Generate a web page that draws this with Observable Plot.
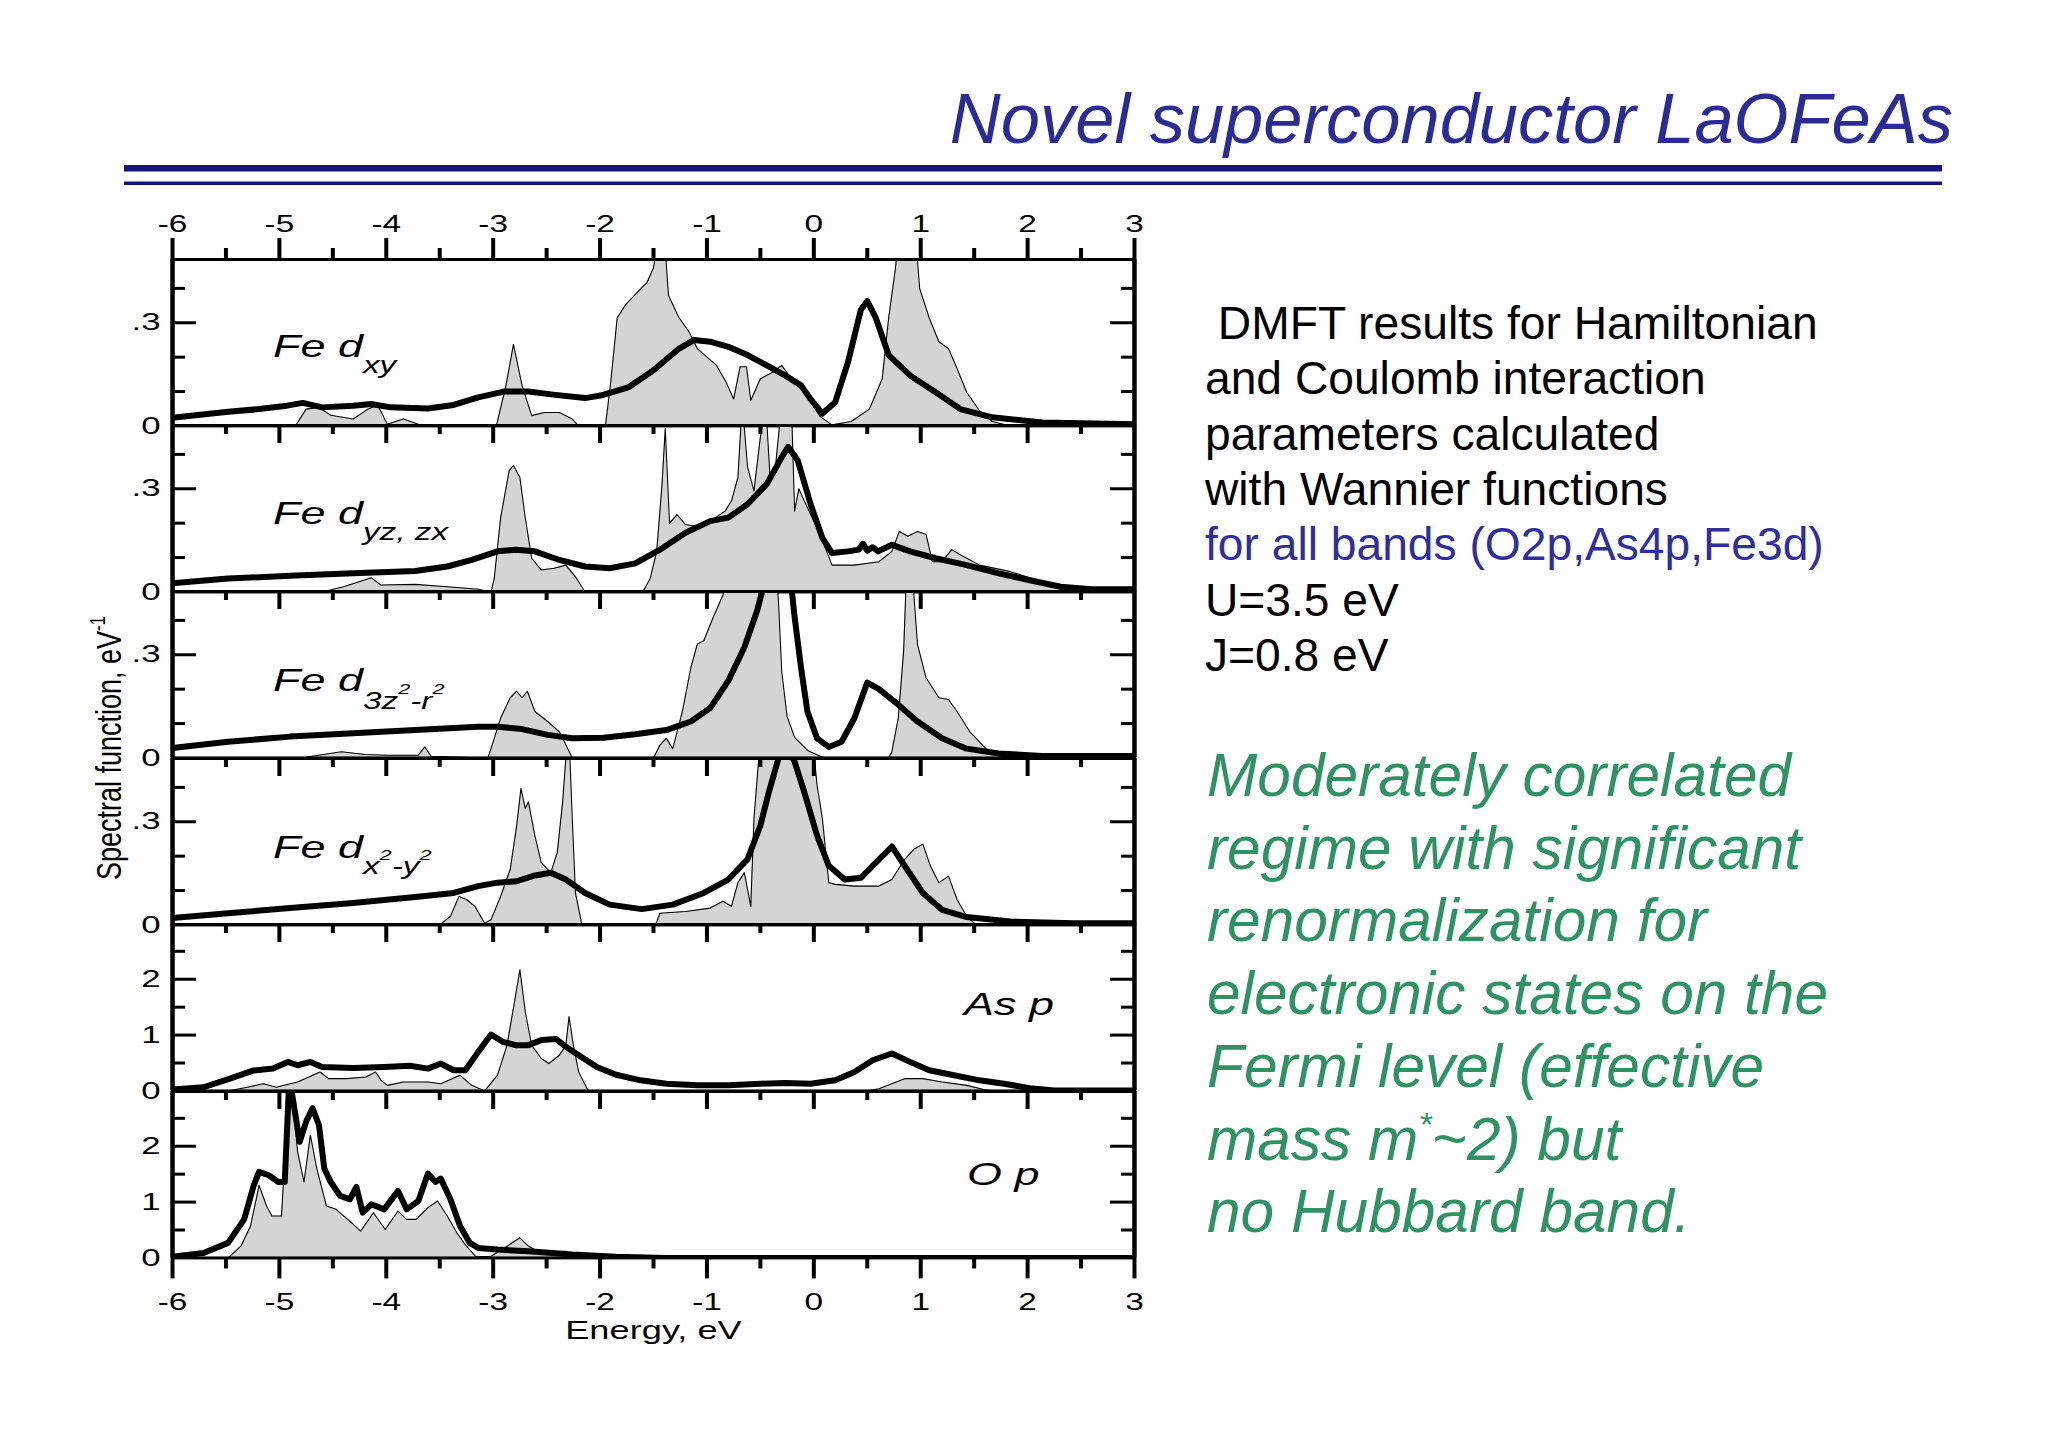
<!DOCTYPE html>
<html><head><meta charset="utf-8">
<script src="https://cdn.jsdelivr.net/npm/d3@7"></script>
<script src="https://cdn.jsdelivr.net/npm/@observablehq/plot@0.6"></script>
<style>
html,body{margin:0;padding:0;background:#fff;}
#page{position:relative;width:2048px;height:1447px;overflow:hidden;background:#fff;font-family:"Liberation Sans",Arial,Helvetica,sans-serif;}
#page svg{position:absolute;}
</style></head><body><div id="page"></div>
<script>
// ---------------- data (energy eV, spectral function eV^-1) ----------------
const dxyLDA = [[-6,0],[-4.85,0],[-4.75,0.049],[-4.63,0.054],[-4.52,0.031],[-4.31,0.02],[-4.17,0.049],[-4.08,0.06],[-3.99,0.005],[-3.84,0.02],[-3.7,0.005],[-3.6,0],[-2.97,0],[-2.88,0.118],[-2.81,0.237],[-2.73,0.118],[-2.64,0.03],[-2.52,0.039],[-2.38,0.039],[-2.26,0.02],[-2.2,0],[-1.95,0],[-1.9,0.127],[-1.84,0.314],[-1.76,0.353],[-1.61,0.402],[-1.56,0.417],[-1.5,0.46],[-1.45,0.56],[-1.4,0.56],[-1.36,0.38],[-1.32,0.353],[-1.26,0.314],[-1.17,0.275],[-1.09,0.225],[-0.91,0.176],[-0.82,0.127],[-0.75,0.078],[-0.69,0.172],[-0.63,0.172],[-0.59,0.074],[-0.5,0.137],[-0.38,0.157],[-0.3,0.176],[-0.21,0.137],[-0.09,0.098],[0.06,0.027],[0.17,0.003],[0.35,0.013],[0.52,0.049],[0.64,0.137],[0.7,0.314],[0.76,0.45],[0.8,0.56],[0.95,0.56],[0.99,0.4],[1.08,0.314],[1.17,0.245],[1.26,0.225],[1.34,0.167],[1.43,0.098],[1.55,0.044],[1.67,0.013],[1.84,0],[3,0]];
const dxyDMFT = [[-6,0.024],[-5.48,0.041],[-5.19,0.049],[-4.93,0.059],[-4.78,0.067],[-4.6,0.054],[-4.31,0.059],[-4.14,0.064],[-3.96,0.054],[-3.61,0.051],[-3.37,0.061],[-3.14,0.083],[-2.9,0.1],[-2.67,0.1],[-2.44,0.091],[-2.14,0.081],[-1.97,0.09],[-1.73,0.113],[-1.5,0.162],[-1.26,0.225],[-1.12,0.25],[-0.97,0.245],[-0.8,0.23],[-0.62,0.206],[-0.44,0.176],[-0.27,0.147],[-0.12,0.118],[-0.03,0.078],[0.08,0.036],[0.2,0.069],[0.32,0.186],[0.44,0.338],[0.5,0.363],[0.58,0.314],[0.7,0.206],[0.9,0.147],[1.14,0.098],[1.37,0.049],[1.67,0.025],[2.14,0.01],[3,0.005]];

const dyzLDA = [[-6,0],[-4.6,0],[-4.4,0.015],[-4.14,0.041],[-4.05,0.02],[-3.73,0.022],[-3.43,0.015],[-3.14,0.008],[-3.02,0],[-2.99,0.039],[-2.93,0.216],[-2.85,0.353],[-2.81,0.368],[-2.75,0.333],[-2.7,0.216],[-2.64,0.098],[-2.55,0.064],[-2.43,0.069],[-2.32,0.078],[-2.23,0.044],[-2.14,0],[-1.6,0],[-1.53,0.04],[-1.47,0.118],[-1.42,0.314],[-1.39,0.475],[-1.35,0.2],[-1.28,0.225],[-1.2,0.196],[-1.09,0.19],[-0.97,0.206],[-0.83,0.235],[-0.77,0.265],[-0.71,0.333],[-0.67,0.55],[-0.62,0.363],[-0.56,0.294],[-0.5,0.45],[-0.45,0.55],[-0.41,0.333],[-0.36,0.36],[-0.3,0.55],[-0.21,0.55],[-0.18,0.235],[-0.14,0.3],[-0.09,0.265],[0.03,0.186],[0.12,0.118],[0.17,0.078],[0.38,0.078],[0.61,0.088],[0.73,0.118],[0.8,0.176],[0.88,0.162],[0.97,0.176],[1.05,0.167],[1.11,0.088],[1.2,0.088],[1.29,0.123],[1.37,0.108],[1.55,0.078],[1.84,0.059],[2.14,0.029],[2.37,0.01],[2.49,0],[3,0]];
const dyzDMFT = [[-6,0.025],[-5.48,0.039],[-4.9,0.047],[-4.31,0.054],[-3.73,0.061],[-3.43,0.074],[-3.2,0.093],[-2.96,0.118],[-2.79,0.123],[-2.61,0.118],[-2.38,0.093],[-2.14,0.074],[-1.91,0.069],[-1.67,0.083],[-1.44,0.123],[-1.2,0.172],[-0.97,0.206],[-0.8,0.216],[-0.62,0.255],[-0.44,0.314],[-0.3,0.392],[-0.24,0.422],[-0.15,0.382],[-0.03,0.255],[0.08,0.157],[0.17,0.113],[0.32,0.118],[0.42,0.123],[0.46,0.14],[0.5,0.12],[0.55,0.13],[0.6,0.118],[0.73,0.137],[0.9,0.118],[1.14,0.098],[1.43,0.078],[1.73,0.054],[2.02,0.034],[2.31,0.015],[2.6,0.008],[3,0.008]];

const dz2LDA = [[-6,0],[-4.8,0],[-4.42,0.018],[-4.2,0.01],[-3.99,0.008],[-3.7,0.008],[-3.64,0.032],[-3.58,0.005],[-3.05,0],[-3.02,0.027],[-2.93,0.116],[-2.84,0.175],[-2.78,0.194],[-2.73,0.175],[-2.68,0.194],[-2.61,0.135],[-2.49,0.106],[-2.38,0.076],[-2.26,0],[-1.5,0],[-1.44,0.037],[-1.38,0.057],[-1.32,0.027],[-1.23,0.135],[-1.15,0.263],[-1.09,0.331],[-1.03,0.341],[-0.94,0.41],[-0.85,0.474],[-0.8,0.55],[-0.36,0.6],[-0.33,0.45],[-0.3,0.25],[-0.25,0.12],[-0.18,0.06],[-0.05,0.02],[0.1,0],[0.7,0],[0.73,0.018],[0.79,0.116],[0.84,0.31],[0.86,0.478],[0.9,0.6],[0.93,0.5],[0.97,0.33],[1.05,0.233],[1.17,0.175],[1.26,0.17],[1.34,0.135],[1.46,0.076],[1.61,0.027],[1.73,0.008],[1.84,0],[3,0]];
const dz2DMFT = [[-6,0.029],[-5.48,0.047],[-4.9,0.062],[-4.31,0.072],[-3.73,0.081],[-3.14,0.091],[-2.96,0.091],[-2.73,0.084],[-2.49,0.067],[-2.26,0.057],[-1.97,0.059],[-1.67,0.069],[-1.38,0.081],[-1.15,0.106],[-0.97,0.145],[-0.8,0.224],[-0.65,0.322],[-0.53,0.429],[-0.47,0.5],[-0.35,0.65],[-0.21,0.5],[-0.18,0.41],[-0.12,0.263],[-0.06,0.135],[0.03,0.057],[0.14,0.032],[0.26,0.047],[0.38,0.116],[0.5,0.219],[0.61,0.2],[0.79,0.155],[0.97,0.106],[1.2,0.057],[1.43,0.027],[1.73,0.013],[2.14,0.006],[3,0.006]];

const dx2LDA = [[-6,0],[-3.5,0],[-3.4,0.025],[-3.32,0.083],[-3.25,0.074],[-3.17,0.054],[-3.08,0.005],[-3.02,0.015],[-2.93,0.083],[-2.84,0.162],[-2.78,0.289],[-2.74,0.397],[-2.7,0.338],[-2.67,0.358],[-2.61,0.26],[-2.55,0.181],[-2.46,0.152],[-2.4,0.211],[-2.35,0.358],[-2.32,0.485],[-2.29,0.55],[-2.26,0.309],[-2.23,0.093],[-2.17,0],[-1.48,0],[-1.44,0.034],[-1.2,0.039],[-0.97,0.049],[-0.85,0.069],[-0.77,0.054],[-0.71,0.123],[-0.65,0.152],[-0.59,0.054],[-0.56,0.309],[-0.52,0.466],[-0.48,0.6],[-0.03,0.6],[0.03,0.407],[0.08,0.309],[0.14,0.123],[0.2,0.118],[0.38,0.113],[0.61,0.113],[0.73,0.132],[0.85,0.191],[0.94,0.221],[1.02,0.235],[1.09,0.172],[1.17,0.123],[1.26,0.142],[1.34,0.074],[1.43,0.025],[1.52,0],[3,0]];
const dx2DMFT = [[-6,0.02],[-5.48,0.034],[-4.9,0.049],[-4.31,0.064],[-3.73,0.081],[-3.37,0.093],[-3.14,0.113],[-2.96,0.123],[-2.78,0.127],[-2.61,0.144],[-2.46,0.152],[-2.32,0.132],[-2.14,0.093],[-1.91,0.059],[-1.61,0.046],[-1.32,0.059],[-1.03,0.093],[-0.8,0.132],[-0.62,0.191],[-0.5,0.289],[-0.42,0.387],[-0.33,0.485],[-0.27,0.53],[-0.18,0.475],[-0.09,0.387],[0.03,0.26],[0.14,0.172],[0.29,0.132],[0.44,0.137],[0.58,0.181],[0.73,0.228],[0.85,0.172],[1.02,0.093],[1.2,0.044],[1.43,0.023],[1.84,0.01],[2.43,0.005],[3,0.005]];

const asLDA = [[-6,0],[-5.48,0],[-5.3,0.066],[-5.15,0.13],[-5.03,0.066],[-4.83,0.16],[-4.62,0.34],[-4.54,0.22],[-4.37,0.22],[-4.19,0.25],[-4.1,0.34],[-4.05,0.19],[-3.99,0.1],[-3.84,0.16],[-3.61,0.16],[-3.49,0.13],[-3.31,0.28],[-3.2,0.1],[-3.08,0],[-2.96,0.28],[-2.87,0.82],[-2.8,1.6],[-2.75,2.17],[-2.7,1.42],[-2.64,0.82],[-2.55,0.58],[-2.48,0.49],[-2.38,0.64],[-2.32,0.82],[-2.29,1.33],[-2.25,0.82],[-2.2,0.34],[-2.11,0],[0.5,0],[0.61,0.04],[0.85,0.22],[1.02,0.22],[1.2,0.16],[1.43,0.1],[1.6,0.02],[1.72,0],[3,0]];
const asDMFT = [[-6,0.024],[-5.71,0.066],[-5.47,0.217],[-5.24,0.367],[-5.06,0.4],[-4.92,0.52],[-4.83,0.46],[-4.71,0.52],[-4.6,0.43],[-4.31,0.41],[-4.02,0.43],[-3.78,0.45],[-3.61,0.4],[-3.49,0.49],[-3.37,0.37],[-3.26,0.37],[-3.14,0.7],[-3.02,1.01],[-2.91,0.88],[-2.79,0.82],[-2.67,0.82],[-2.55,0.91],[-2.41,0.93],[-2.32,0.79],[-2.2,0.64],[-2.03,0.43],[-1.85,0.29],[-1.62,0.19],[-1.38,0.13],[-1.09,0.1],[-0.8,0.1],[-0.5,0.13],[-0.27,0.14],[-0.03,0.13],[0.2,0.19],[0.38,0.34],[0.55,0.55],[0.73,0.67],[0.9,0.52],[1.08,0.37],[1.31,0.28],[1.55,0.19],[1.78,0.13],[2.02,0.05],[2.25,0.01],[3,0.01]];

const opLDA = [[-6,0],[-5.48,0],[-5.36,0.21],[-5.27,0.57],[-5.19,1.3],[-5.12,0.93],[-5.07,0.75],[-4.98,0.75],[-4.92,2.8],[-4.89,3.1],[-4.83,1.9],[-4.77,1.36],[-4.71,2.2],[-4.65,1.6],[-4.56,0.93],[-4.47,0.87],[-4.36,0.69],[-4.24,0.48],[-4.12,0.81],[-4.01,0.51],[-3.89,0.84],[-3.81,0.69],[-3.72,0.69],[-3.61,0.9],[-3.52,1.02],[-3.43,0.75],[-3.34,0.45],[-3.25,0.21],[-3.16,0.02],[-3.02,0.03],[-2.87,0.21],[-2.75,0.36],[-2.67,0.21],[-2.55,0.09],[-2.32,0.12],[-2.26,0.02],[-2.2,0],[3,0]];
const opDMFT = [[-6,0.02],[-5.71,0.09],[-5.48,0.27],[-5.33,0.69],[-5.24,1.3],[-5.19,1.54],[-5.1,1.48],[-5.01,1.36],[-4.95,1.36],[-4.91,3.1],[-4.88,2.92],[-4.81,2.08],[-4.75,2.44],[-4.69,2.68],[-4.63,2.38],[-4.58,1.6],[-4.52,1.36],[-4.43,1.11],[-4.34,1.05],[-4.28,1.27],[-4.22,0.81],[-4.14,0.96],[-4.02,0.87],[-3.89,1.2],[-3.81,0.87],[-3.7,1.02],[-3.61,1.51],[-3.54,1.36],[-3.49,1.42],[-3.4,1.05],[-3.31,0.57],[-3.22,0.27],[-3.14,0.18],[-2.96,0.15],[-2.67,0.12],[-2.26,0.06],[-1.85,0.02],[-1.38,0],[3,0]];

// ---------------- ticks and labels ----------------
const energyTicks = [-6,-5,-4,-3,-2,-1,0,1,2,3];
const energyTickLabels = ["-6","-5","-4","-3","-2","-1","0","1","2","3"];
const energyMinor = [-5.5,-4.5,-3.5,-2.5,-1.5,-0.5,0.5,1.5,2.5];
const energyInnerMajor = [-5,-4,-3,-2,-1,0,1,2];
const feYDomain = [0, 0.484];
const feYMajor = [0.3];
const feYMinor = [0.1, 0.2, 0.4];
const feYTicks = [0, 0.3];
const feYTickLabels = ["0", ".3"];
const pYDomain = [0, 2.98];
const pYMajor = [1, 2];
const pYMinor = [0.5, 1.5, 2.5];
const pYTicks = [0, 1, 2];
const pYTickLabels = ["0", "1", "2"];

const titleText = "Novel superconductor LaOFeAs";
const xAxisLabel = "Energy, eV";
const yAxisLabel = "Spectral function, eV";
const infoLines = [" DMFT results for Hamiltonian", "and Coulomb interaction", "parameters calculated", "with Wannier functions", "for all bands (O2p,As4p,Fe3d)", "U=3.5 eV", "J=0.8 eV"];
const infoColors = ["#000","#000","#000","#000","#2e2e9c","#000","#000"];
const greenLines = ["Moderately correlated", "regime with significant", "renormalization for", "electronic states on the", "Fermi level (effective", "mass m|*|~2) but", "no Hubbard band."];

// ---------------- layout ----------------
const FRAME_L = 172, FRAME_R = 1134, FRAME_TOP = 258.5, PH = 166.45;
const SVG_W = 1200, M_T = 100, M_B = 100;
const PW = FRAME_R - FRAME_L;
const STRETCH = 1.45;
const FONT = "'Liberation Sans', Arial, Helvetica, sans-serif";

const panels = [
  {lda: dxyLDA, dmft: dxyDMFT, fe: true},
  {lda: dyzLDA, dmft: dyzDMFT, fe: true},
  {lda: dz2LDA, dmft: dz2DMFT, fe: true},
  {lda: dx2LDA, dmft: dx2DMFT, fe: true},
  {lda: asLDA, dmft: asDMFT, fe: false},
  {lda: opLDA, dmft: opDMFT, fe: false}
];

const page = document.getElementById("page");

// the scanned figure is stretched horizontally: widen its glyphs about their anchor
function stretchTexts(svg, s) {
  d3.select(svg).selectAll("text").each(function () {
    const t = d3.select(this);
    const tr = t.attr("transform") || "";
    const rotated = /rotate\(\s*-?9/.test(tr);
    if (rotated) {
      t.attr("transform", `${tr} scale(1,${s})`);
    } else {
      const x = parseFloat(t.attr("x")) || 0;
      t.attr("transform", `${tr} translate(${x},0) scale(${s},1) translate(${-x},0)`);
    }
  });
}

panels.forEach((p, i) => {
  const domain = p.fe ? feYDomain : pYDomain;
  const major = p.fe ? feYMajor : pYMajor;
  const minor = p.fe ? feYMinor : pYMinor;
  const tv = p.fe ? feYTicks : pYTicks;
  const tl = p.fe ? feYTickLabels : pYTickLabels;
  const X = d => d[0], Y = d => d[1];
  const marks = [
    Plot.areaY(p.lda, {x: X, y: Y, fill: "#d4d4d4", clip: true}),
    Plot.lineY(p.lda, {x: X, y: Y, stroke: "#000", strokeWidth: 1.1, clip: true}),
    Plot.lineY(p.dmft, {x: X, y: Y, stroke: "#000", strokeWidth: 6, clip: true, strokeLinejoin: "round", strokeLinecap: "round"}),
    Plot.frame({stroke: "#000", strokeWidth: 3}),
    Plot.ruleX([-6, 3], {stroke: "#000", strokeWidth: 4.5}),
    Plot.tickY(major, {y: d => d, insetRight: PW - 24, strokeWidth: 3}),
    Plot.tickY(minor, {y: d => d, insetRight: PW - 13, strokeWidth: 3}),
    Plot.tickY(major, {y: d => d, insetLeft: PW - 24, strokeWidth: 3}),
    Plot.tickY(minor, {y: d => d, insetLeft: PW - 13, strokeWidth: 3}),
    Plot.axisY(tv, {anchor: "left", tickSize: 0, tickPadding: 12, fontSize: 24,
      tickFormat: d => tl[tv.indexOf(d)], label: null})
  ];
  if (i === 0) {
    marks.push(
      Plot.tickX(energyTicks, {x: d => d, insetTop: -21, insetBottom: PH, strokeWidth: 4}),
      Plot.tickX(energyMinor, {x: d => d, insetTop: -11, insetBottom: PH, strokeWidth: 4}),
      Plot.axisX(energyTicks, {anchor: "top", tickSize: 0, tickPadding: 27, fontSize: 23,
        tickFormat: d => energyTickLabels[energyTicks.indexOf(d)], label: null})
    );
  } else {
    marks.push(
      Plot.tickX(energyInnerMajor, {x: d => d, insetBottom: PH - 18, strokeWidth: 4}),
      Plot.tickX(energyMinor, {x: d => d, insetBottom: PH - 9, strokeWidth: 4})
    );
  }
  if (i === panels.length - 1) {
    marks.push(
      Plot.tickX(energyTicks, {x: d => d, insetTop: PH, insetBottom: -21, strokeWidth: 4}),
      Plot.tickX(energyMinor, {x: d => d, insetTop: PH, insetBottom: -11, strokeWidth: 4}),
      Plot.axisX(energyTicks, {anchor: "bottom", tickSize: 0, tickPadding: 36, fontSize: 23,
        tickFormat: d => energyTickLabels[energyTicks.indexOf(d)], label: null}),
      Plot.text([xAxisLabel], {frameAnchor: "bottom", dy: 81, fontSize: 25})
    );
  }
  const svg = Plot.plot({
    width: SVG_W, height: PH + M_T + M_B,
    marginLeft: FRAME_L, marginRight: SVG_W - FRAME_R, marginTop: M_T, marginBottom: M_B,
    x: {domain: [-6, 3], axis: null},
    y: {domain, axis: null},
    style: {background: "transparent", overflow: "visible", fontFamily: FONT, color: "#000"},
    marks
  });
  stretchTexts(svg, STRETCH);
  svg.style.left = "0px";
  svg.style.top = (FRAME_TOP + i * PH - M_T) + "px";
  svg.style.maxWidth = "none";
  page.appendChild(svg);
});

// ---------------- overlay: slide text, lines, panel labels ----------------
const ov = d3.select(page).append("svg").attr("width", 2048).attr("height", 1447)
  .style("left", "0px").style("top", "0px").style("font-family", FONT);

ov.append("text").attr("x", 1953).attr("y", 143).attr("text-anchor", "end")
  .attr("font-style", "italic").attr("font-size", 70.5).attr("fill", "#2b2b96").text(titleText);
ov.append("rect").attr("x", 124).attr("y", 165).attr("width", 1818).attr("height", 6.5).attr("fill", "#14147e");
ov.append("rect").attr("x", 124).attr("y", 181.5).attr("width", 1818).attr("height", 3.5).attr("fill", "#14147e");

infoLines.forEach((t, i) => {
  ov.append("text").attr("x", 1205).attr("y", 339 + 55.3 * i).attr("font-size", 46.2)
    .attr("fill", infoColors[i]).style("white-space", "pre").text(t);
});

greenLines.forEach((t, i) => {
  const el = ov.append("text").attr("x", 1207).attr("y", 796 + 72.7 * i).attr("font-size", 60.4)
    .attr("font-style", "italic").attr("fill", "#2f9263");
  const parts = t.split("|");
  if (parts.length === 1) el.text(t);
  else {
    el.append("tspan").text(parts[0]);
    el.append("tspan").attr("font-size", 34).attr("dy", -24).text(parts[1]);
    el.append("tspan").attr("dy", 24).text(parts[2]);
  }
});

// panel labels (figure is horizontally stretched)
function panelLabel(x, y, pieces) {
  const g = ov.append("g").attr("transform", `translate(${x},${y}) scale(${STRETCH},1)`);
  const t = g.append("text").attr("font-style", "italic").attr("font-size", 31).attr("fill", "#000");
  pieces.forEach(([txt, size, dy]) => {
    t.append("tspan").attr("font-size", size).attr("dy", dy).style("white-space", "pre").text(txt);
  });
}
panelLabel(273, 357, [["Fe d", 31, 0], ["xy", 23, 16]]);
panelLabel(273, 524, [["Fe d", 31, 0], ["yz, zx", 23, 16]]);
panelLabel(273, 691, [["Fe d", 31, 0], ["3z", 23, 18], ["2", 15, -15], ["-r", 23, 15], ["2", 15, -15]]);
panelLabel(273, 858, [["Fe d", 31, 0], ["x", 23, 16], ["2", 15, -14], ["-y", 23, 14], ["2", 15, -14]]);
panelLabel(964, 1015, [["As p", 31, 0]]);
panelLabel(967, 1185, [["O p", 31, 0]]);

// y axis title
const yl = ov.append("g").attr("transform", `translate(121,748) rotate(-90) scale(1,1.3)`)
  .append("text").attr("text-anchor", "middle").attr("font-size", 27).attr("fill", "#000");
yl.append("tspan").text(yAxisLabel);
yl.append("tspan").attr("font-size", 17).attr("dy", -12).text("-1");
</script></body></html>
